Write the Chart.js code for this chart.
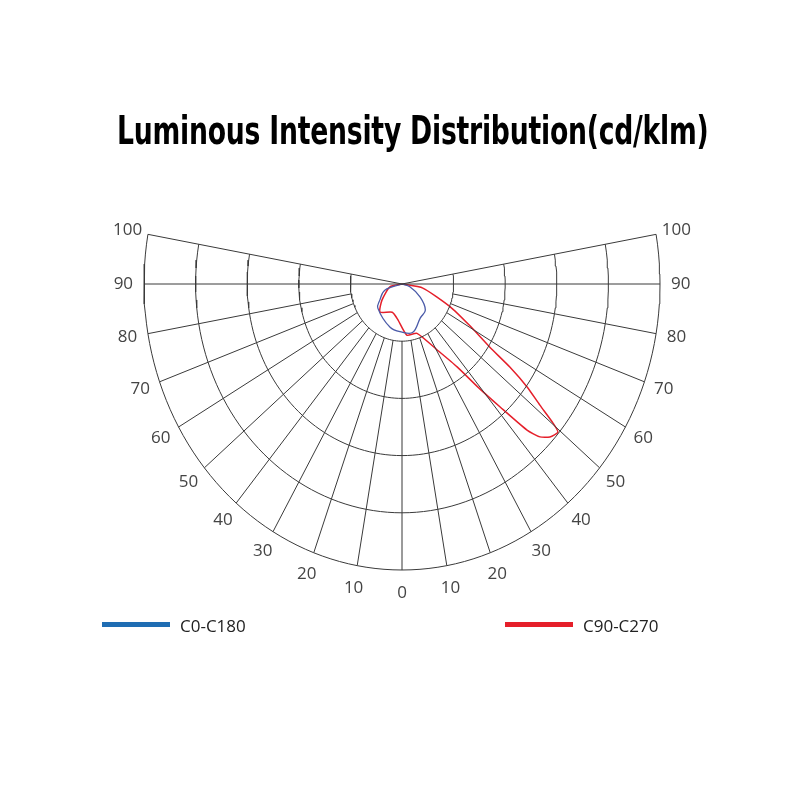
<!DOCTYPE html>
<html><head><meta charset="utf-8">
<script src="https://cdn.jsdelivr.net/npm/chart.js@4/dist/chart.umd.min.js"></script>
<style>
html,body{margin:0;padding:0;background:#fff;}
#wrap{position:relative;width:800px;height:800px;}
#title{position:absolute;left:0;width:826px;top:108px;text-align:center;font-family:"Liberation Sans Narrow","DejaVu Sans Condensed",sans-serif;font-weight:bold;font-size:38px;color:#000;transform:scale(0.78,1.05);transform-origin:412px 50%;letter-spacing:-0.3px}
.lg{position:absolute;top:614px;font-family:"Open Sans",sans-serif;font-size:17px;color:#222}
.sw{position:absolute;top:622px;height:5px;width:68px}
</style></head><body>
<div id="wrap">
<canvas id="c" width="800" height="800"></canvas>
<div id="title">Luminous Intensity Distribution(cd/klm)</div>
<div class="sw" style="left:102px;background:#1f6db3"></div><div class="lg" style="left:180px">C0-C180</div>
<div class="sw" style="left:505px;background:#e51f2a"></div><div class="lg" style="left:583px">C90-C270</div>
</div>
<script>
// angle labels (degrees from nadir)
const angleLabels = [0,10,20,30,40,50,60,70,80,90,100];
const rings = [1,2,3,4,5];
// C0-C180: angle (deg, negative = left side), intensity (ring units)
const c0Angles = [-90,-72,-57,-48,-17,0,14,31,45,57,72,90];
const c0Values = [0,0.35,0.51,0.63,0.79,0.84,0.87,0.69,0.64,0.42,0.16,0];
// C90-C270
const c90Angles = [90,80,67,61,57,55.2,53.4,51.6,50.3,49.4,47,45,43.5,41.5,39.2,36.4,30.6,18.6,6,-8,-21,-41,-54,-78,-90];
const c90Values = [0,0.41,1.01,1.50,2.03,2.55,3.02,3.41,3.80,3.98,3.92,3.78,3.52,2.87,2.32,1.80,1.34,0.91,0.90,0.62,0.53,0.65,0.48,0.24,0];

const toXY=(a,r)=>({x:r*Math.sin(a*Math.PI/180),y:-r*Math.cos(a*Math.PI/180)});
const datasets=[];
const gridCol='#3a3a3a';
rings.forEach(r=>{const pts=[];for(let a=-100;a<=100;a+=2)pts.push(toXY(a,r));
 datasets.push({data:pts,showLine:true,borderColor:gridCol,borderWidth:1,pointRadius:0,tension:0});});
angleLabels.forEach(a=>{[1,-1].forEach(s=>{
 const inner=(a>=90)?0:1;
 datasets.push({data:[toXY(s*a,inner),toXY(s*a,5)],showLine:true,borderColor:a===0?'#999':gridCol,borderWidth:1,pointRadius:0});});});
datasets.push({data:c0Angles.map((a,i)=>toXY(a,c0Values[i])),showLine:true,borderColor:'#4a5aa8',borderWidth:1.3,pointRadius:0,tension:0.4});
datasets.push({data:c90Angles.map((a,i)=>toXY(a,c90Values[i])),showLine:true,borderColor:'#e51f2a',borderWidth:1.5,pointRadius:0,tension:0.2});

const labelPlugin={id:'lbl',afterDatasetsDraw(ch){const {ctx,scales:{x,y}}=ch;ctx.save();
 ctx.font='17px "Open Sans", sans-serif';ctx.fillStyle='#444';ctx.textAlign='center';ctx.textBaseline='middle';
 angleLabels.forEach(a=>{[1,-1].forEach(s=>{if(a===0&&s<0)return;const p=toXY(s*a,5.4);
  ctx.fillText(String(a),x.getPixelForValue(p.x),y.getPixelForValue(p.y));});});ctx.restore();}};

new Chart(document.getElementById('c'),{type:'scatter',data:{datasets},
 options:{responsive:false,animation:false,layout:{padding:0},
  plugins:{legend:{display:false},tooltip:{enabled:false}},
  scales:{x:{display:false,min:-402/51.6,max:398/51.6},y:{display:false,min:-516/57.2,max:284/57.2}}},
 plugins:[labelPlugin]});
</script></body></html>
